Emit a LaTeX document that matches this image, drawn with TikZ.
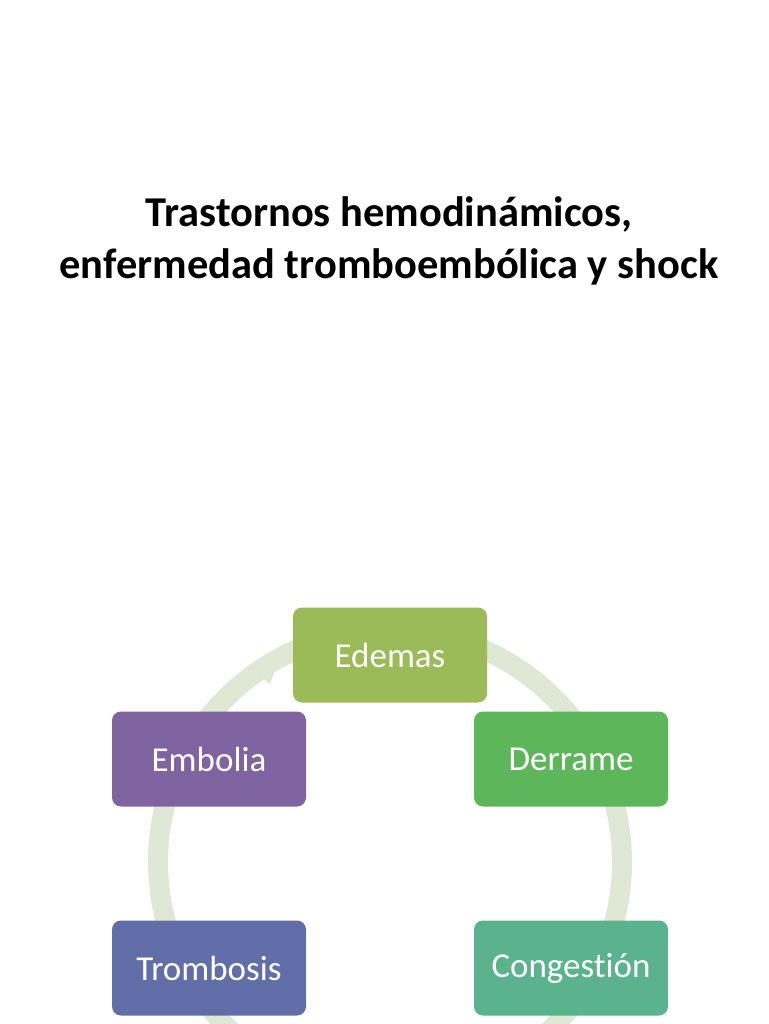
\documentclass[tikz,border=0pt]{standalone}
\usepackage{fontspec}
\setmainfont[Ligatures=NoCommon]{Carlito}
\usetikzlibrary{arrows.meta}
\definecolor{ring}{HTML}{DFE8D5}
\definecolor{cA}{HTML}{9BBB59}
\definecolor{cB}{HTML}{5DB65A}
\definecolor{cC}{HTML}{5BB38E}
\definecolor{cD}{HTML}{616EA8}
\definecolor{cE}{HTML}{8064A2}
\begin{document}
\begin{tikzpicture}[x=1pt,y=-1pt,
  box/.style={rounded corners=9pt,minimum width=194pt,minimum height=95pt,text=white,font=\fontsize{35}{40}\selectfont,inner sep=0pt}]
\useasboundingbox (0,0) rectangle (768,1024);
\fill[white] (0,0) rectangle (768,1024);
\node (title) at (389,241) [align=center,font=\bfseries\fontsize{42.5}{52}\selectfont] {Trastornos hemodinámicos,\\enfermedad tromboembólica y shock};
\begin{scope}
\clip (0,0) rectangle (768,1024);
\draw[ring,line width=20pt] (390,862) circle (232);
\fill[ring] (250,668) -- (285,643) -- (270,684) -- cycle;
\end{scope}
\node[box,fill=cA] (a) at (390,655) {Edemas};
\node[box,fill=cB] (b) at (571,759) {Derrame};
\node[box,fill=cC] (c) at (571,968) {Congestión};
\node[box,fill=cD] (d) at (209,968) {Trombosis};
\node[box,fill=cE] (e) at (209,759) {Embolia};
\end{tikzpicture}
\end{document}
